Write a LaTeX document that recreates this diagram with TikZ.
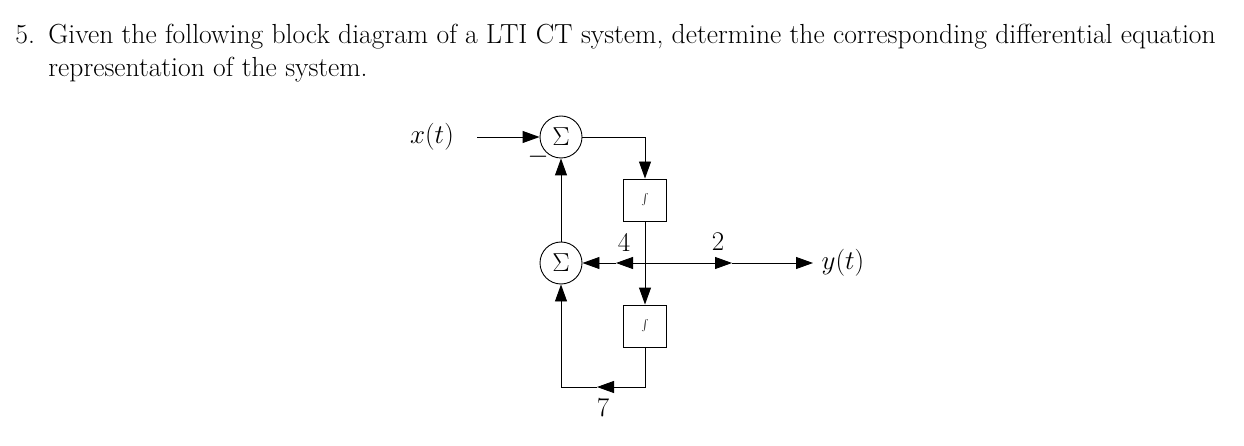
\documentclass[tikz,border=0pt]{standalone}
\usepackage{fix-cm}
\usetikzlibrary{arrows.meta}
\begin{document}
\begin{tikzpicture}[x=1pt,y=-1pt,
  sum/.style={circle,draw,minimum size=42pt,inner sep=0pt,font=\fontsize{26}{30}\selectfont},
  blk/.style={draw,minimum width=43pt,minimum height=42pt,inner sep=0pt,font=\fontsize{26}{30}\selectfont},
  lbl/.style={font=\fontsize{27}{32}\selectfont,inner sep=0pt},
  ttl/.style={font=\fontsize{27.6}{33}\selectfont,inner sep=0pt,anchor=base west},
  ar/.style={-{Triangle[length=17pt,width=12pt]}},
  line width=0.9pt]
\useasboundingbox (0,0) rectangle (1244,446);
\node[ttl] (n5) at (15,44) {5.};
\node[ttl] (t1) at (48,44) {Given the following block diagram of a LTI CT system, determine the corresponding differential equation};
\node[ttl] (t2) at (48,77) {representation of the system.};
\node[sum] (s1) at (561,137) {$\Sigma$};
\node[sum] (s2) at (561,263) {$\Sigma$};
\node[blk] (i1) at (645,200) {\scalebox{1.1}{$\int$}};
\node[blk] (i2) at (645,326) {\scalebox{1.1}{$\int$}};
\node[lbl] (x) at (432,137) {$x(t)$};
\node[lbl] (y) at (843,263) {$y(t)$};
\coordinate (xs) at (477,137);
\coordinate (ye) at (813,263);
\coordinate (j) at (645,263);
\coordinate (c1) at (645,137);
\coordinate (g4) at (616,263);
\coordinate (g2) at (732,263);
\coordinate (b1) at (645,387);
\coordinate (b2) at (561,387);
\coordinate (g7) at (597,387);
\draw[ar] (xs) -- (s1.west);
\draw[ar] (s1.east) -- (c1) -- (i1.north);
\draw[ar] (i1.south) -- (i2.north);
\draw[ar] (j) -- (g4);
\draw[ar] (g4) -- (s2.east);
\draw[ar] (j) -- (g2);
\draw[ar] (g2) -- (ye);
\draw[ar] (s2.north) -- (s1.south);
\draw[ar] (i2.south) -- (b1) -- (g7);
\draw[ar] (g7) -- (b2) -- (s2.south);
\node[lbl] (l4) at (624,242) {4};
\node[lbl] (l2) at (718,242) {2};
\node[lbl] (l7) at (603,408) {7};
\node[lbl] (m) at (538,157) {$-$};
\end{tikzpicture}
\end{document}
